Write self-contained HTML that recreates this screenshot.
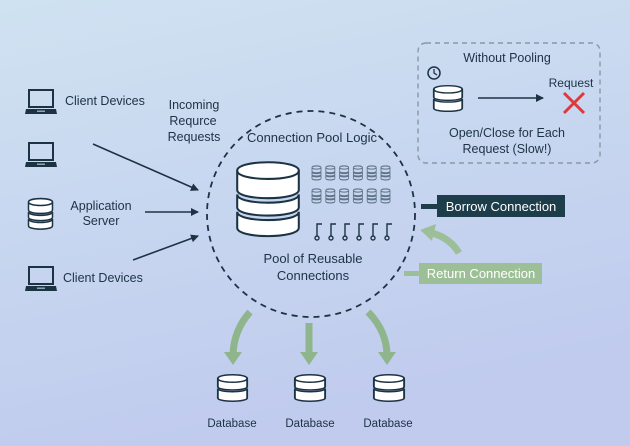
<!DOCTYPE html>
<html><head><meta charset="utf-8"><style>
html,body{margin:0;padding:0;width:630px;height:446px;overflow:hidden}
svg{display:block}
text{font-family:"Liberation Sans",sans-serif;fill:#1c3344}
</style></head><body>
<svg width="630" height="446" viewBox="0 0 630 446" xmlns="http://www.w3.org/2000/svg">
<defs>
<linearGradient id="bg" x1="0" y1="0" x2="0.3" y2="1">
<stop offset="0" stop-color="#cfe2f1"/><stop offset="1" stop-color="#c0cbee"/>
</linearGradient>
<symbol id="dbL" viewBox="-3 -3 106 126" preserveAspectRatio="none">
<g fill="#fff" stroke="#1c3344" stroke-width="3.2">
<path d="M2 79 C2 96.3 98 96.3 98 79 V104 C98 121.3 2 121.3 2 104 Z"/>
<path d="M2 52 C2 69.3 98 69.3 98 52 V72 C98 89.3 2 89.3 2 72 Z"/>
<path d="M2 15 C2 -2.3 98 -2.3 98 15 V45 C98 62.3 2 62.3 2 45 Z"/>
<path d="M2 15 C2 32.3 98 32.3 98 15" fill="none"/>
</g>
</symbol>
<symbol id="dbM" viewBox="-4 -4 108 128" preserveAspectRatio="none">
<g fill="#fff" stroke="#1c3344" stroke-width="6">
<path d="M2 79 C2 96.3 98 96.3 98 79 V104 C98 121.3 2 121.3 2 104 Z"/>
<path d="M2 52 C2 69.3 98 69.3 98 52 V72 C98 89.3 2 89.3 2 72 Z"/>
<path d="M2 15 C2 -2.3 98 -2.3 98 15 V45 C98 62.3 2 62.3 2 45 Z"/>
<path d="M2 15 C2 32.3 98 32.3 98 15" fill="none"/>
</g>
</symbol>
<symbol id="db2" viewBox="-4 -4 108 128" preserveAspectRatio="none">
<g fill="#fff" stroke="#1c3344" stroke-width="6">
<path d="M2 62 C2 79 98 79 98 62 V100 C98 117 2 117 2 100 Z"/>
<path d="M2 22 C2 2 98 2 98 22 V55 C98 72 2 72 2 55 Z"/>
<path d="M2 22 C2 42 98 42 98 22" fill="none"/>
</g>
</symbol>
<symbol id="sdb" viewBox="-6 -6 112 132" preserveAspectRatio="none">
<g fill="none" stroke="#5f7486" stroke-width="9">
<path d="M4 79 C4 96.3 96 96.3 96 79 V104 C96 121.3 4 121.3 4 104 Z"/>
<path d="M4 52 C4 69.3 96 69.3 96 52 V72 C96 89.3 4 89.3 4 72 Z"/>
<path d="M4 15 C4 -2.3 96 -2.3 96 15 V45 C96 62.3 4 62.3 4 45 Z"/>
<path d="M4 15 C4 32.3 96 32.3 96 15"/>
</g>
</symbol>
<symbol id="lap" viewBox="0 0 32 26">
<rect x="4" y="1" width="24" height="17" fill="none" stroke="#1c3344" stroke-width="2"/>
<path d="M1 20 H31 L32 25 H0 Z" fill="#1c3344"/>
<rect x="12" y="21.5" width="8" height="1.5" fill="#8aa"/>
</symbol>
<marker id="ah" markerWidth="8" markerHeight="8" refX="7" refY="4" orient="auto" markerUnits="userSpaceOnUse">
<path d="M0 0 L8 4 L0 8 Z" fill="#1c3344"/>
</marker>
</defs>
<rect width="630" height="446" fill="url(#bg)"/>

<use href="#lap" x="25" y="89" width="32" height="26"/>
<use href="#lap" x="25" y="142" width="32" height="26"/>
<use href="#lap" x="25" y="266" width="32" height="26"/>
<use href="#dbM" x="27" y="197" width="27" height="34"/>
<text x="65" y="105" font-size="12.5">Client Devices</text>
<text x="101" y="210" font-size="12.5" text-anchor="middle">Application</text>
<text x="101" y="225" font-size="12.5" text-anchor="middle">Server</text>
<text x="63" y="282" font-size="12.5">Client Devices</text>
<g font-size="12.5" text-anchor="middle">
<text x="194" y="109">Incoming</text>
<text x="193" y="125">Requrce</text>
<text x="194" y="141">Requests</text>
</g>
<g stroke="#1c3344" stroke-width="1.6" marker-end="url(#ah)">
<line x1="93" y1="144" x2="198" y2="190"/>
<line x1="145" y1="212" x2="198" y2="212"/>
<line x1="133" y1="260" x2="198" y2="236"/>
</g>

<ellipse cx="311" cy="214" rx="104" ry="103" fill="none" stroke="#1c3344" stroke-width="1.8" stroke-dasharray="6 5"/>
<text x="312" y="142" font-size="13" text-anchor="middle">Connection Pool Logic</text>
<use href="#dbL" x="234" y="159" width="68" height="81"/>
<g>
<use href="#sdb" x="311" y="165" width="11" height="16"/>
<use href="#sdb" x="324.8" y="165" width="11" height="16"/>
<use href="#sdb" x="338.6" y="165" width="11" height="16"/>
<use href="#sdb" x="352.4" y="165" width="11" height="16"/>
<use href="#sdb" x="366.2" y="165" width="11" height="16"/>
<use href="#sdb" x="380" y="165" width="11" height="16"/>
<use href="#sdb" x="311" y="188" width="11" height="16"/>
<use href="#sdb" x="324.8" y="188" width="11" height="16"/>
<use href="#sdb" x="338.6" y="188" width="11" height="16"/>
<use href="#sdb" x="352.4" y="188" width="11" height="16"/>
<use href="#sdb" x="366.2" y="188" width="11" height="16"/>
<use href="#sdb" x="380" y="188" width="11" height="16"/>
</g>
<g fill="none" stroke="#1c3344" stroke-width="1.4">
<path d="M317 236 V224 H322"/><circle cx="317" cy="238" r="2"/>
<path d="M331 236 V224 H336"/><circle cx="331" cy="238" r="2"/>
<path d="M345 236 V224 H350"/><circle cx="345" cy="238" r="2"/>
<path d="M359 236 V224 H364"/><circle cx="359" cy="238" r="2"/>
<path d="M373 236 V224 H378"/><circle cx="373" cy="238" r="2"/>
<path d="M387 236 V224 H392"/><circle cx="387" cy="238" r="2"/>
</g>
<text x="313" y="263" font-size="13" text-anchor="middle">Pool of Reusable</text>
<text x="313" y="280" font-size="13" text-anchor="middle">Connections</text>

<rect x="421" y="204" width="16" height="5" fill="#1d3d4b"/>
<rect x="437" y="195" width="128" height="22" fill="#1d3d4b"/>
<text x="501" y="211" font-size="13" text-anchor="middle" style="fill:#fff">Borrow Connection</text>
<rect x="404" y="271" width="16" height="5" fill="#9dbf98"/>
<rect x="419" y="263" width="123" height="21" fill="#9dbf98"/>
<text x="481" y="278" font-size="13" text-anchor="middle" style="fill:#fff">Return Connection</text>
<path d="M459 253 Q450 238 432 233" fill="none" stroke="#9dbf98" stroke-width="7"/>
<path d="M420 230 L436 224 L432 241 Z" fill="#9dbf98"/>

<g fill="none" stroke="#8fb58c" stroke-width="7">
<path d="M250 312 Q234 330 233 354"/>
<path d="M309 323 V354"/>
<path d="M368 312 Q386 330 387 354"/>
</g>
<g fill="#8fb58c">
<path d="M224 352 H242 L233 365 Z"/>
<path d="M300 352 H318 L309 365 Z"/>
<path d="M378 352 H396 L387 365 Z"/>
</g>
<use href="#db2" x="216" y="372" width="33" height="32"/>
<use href="#db2" x="293" y="372" width="34" height="32"/>
<use href="#db2" x="372" y="372" width="34" height="32"/>
<g font-size="11.5" text-anchor="middle">
<text x="232" y="427">Database</text>
<text x="310" y="427">Database</text>
<text x="388" y="427">Database</text>
</g>

<rect x="418" y="43" width="182" height="120" rx="8" fill="none" stroke="#8a98a4" stroke-width="1.4" stroke-dasharray="5 4"/>
<text x="507" y="62" font-size="12.5" text-anchor="middle">Without Pooling</text>
<circle cx="434" cy="73" r="6" fill="none" stroke="#1c3344" stroke-width="1.5"/>
<path d="M434 69 V73 L437 75" fill="none" stroke="#1c3344" stroke-width="1.3"/>
<use href="#db2" x="432" y="83" width="32" height="31"/>
<line x1="478" y1="98" x2="543" y2="98" stroke="#1c3344" stroke-width="1.5" marker-end="url(#ah)"/>
<text x="571" y="87" font-size="12" text-anchor="middle">Request</text>
<path d="M564 93 L584 113 M584 93 L564 113" stroke="#e0383a" stroke-width="3"/>
<text x="507" y="137" font-size="12.5" text-anchor="middle">Open/Close for Each</text>
<text x="507" y="153" font-size="12.5" text-anchor="middle">Request (Slow!)</text>
</svg>
</body></html>
